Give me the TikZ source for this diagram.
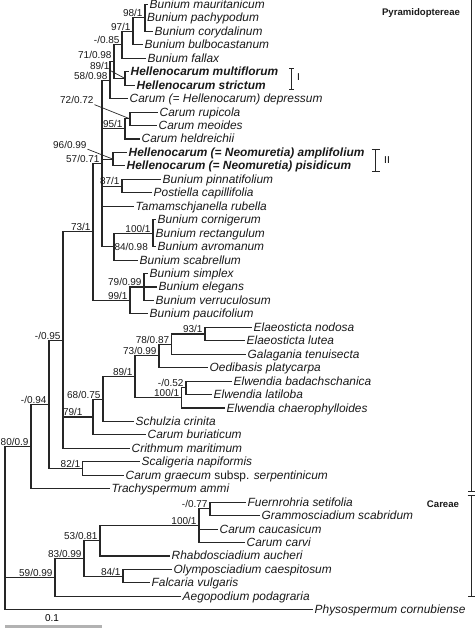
\documentclass[tikz,border=0pt]{standalone}
\usepackage{fontspec}
\setmainfont{Liberation Sans}
\usetikzlibrary{arrows.meta}

\begin{document}
\begin{tikzpicture}[x=1pt, y=-1pt,
    taxon/.style={anchor=west, inner sep=1.5pt, text height=9.5pt, text depth=1.5pt, text=black!90, font=\fontsize{11.9}{13}\selectfont\itshape},
    supp/.style={anchor=south east, inner sep=0.8pt, xshift=-1.5pt, text=black!90, font=\fontsize{10}{11}\selectfont},
    branch/.style={draw=black!85, line width=1.1pt},
    leaderline/.style={draw=black!85, line width=0.7pt},
    clade/.style={text=black!90, font=\fontsize{9.6}{11}\selectfont\bfseries}]
        \useasboundingbox (0,0) rectangle (474,628);

        % Taxa
        \node (mauritanicum) [taxon] at (148, 4.5) {Bunium mauritanicum};
        \node (pachypodum) [taxon] at (145.5, 17.95) {Bunium pachypodum};
        \node (corydalinum) [taxon] at (153, 31.4) {Bunium corydalinum};
        \node (bulbocastanum) [taxon] at (143, 44.85) {Bunium bulbocastanum};
        \node (fallax) [taxon] at (146, 58.3) {Bunium fallax};
        \node (multiflorum) [taxon] at (129, 71.75) {\bfseries Hellenocarum multiflorum};
        \node (strictum) [taxon] at (135, 85.2) {\bfseries Hellenocarum strictum};
        \node (depressum) [taxon] at (128, 98.65) {Carum (= Hellenocarum) depressum};
        \node (rupicola) [taxon] at (158, 112.1) {Carum rupicola};
        \node (meoides) [taxon] at (157, 125.55) {Carum meoides};
        \node (heldreichii) [taxon] at (140, 139.0) {Carum heldreichii};
        \node (amplifolium) [taxon] at (127, 152.45) {\bfseries Hellenocarum (= Neomuretia) amplifolium};
        \node (pisidicum) [taxon] at (125, 165.9) {\bfseries Hellenocarum (= Neomuretia) pisidicum};
        \node (pinnatifolium) [taxon] at (161, 179.35) {Bunium pinnatifolium};
        \node (capillifolia) [taxon] at (152, 192.8) {Postiella capillifolia};
        \node (rubella) [taxon] at (134, 206.25) {Tamamschjanella rubella};
        \node (cornigerum) [taxon] at (156, 219.7) {Bunium cornigerum};
        \node (rectangulum) [taxon] at (154, 233.15) {Bunium rectangulum};
        \node (avromanum) [taxon] at (156, 246.6) {Bunium avromanum};
        \node (scabrellum) [taxon] at (138, 260.05) {Bunium scabrellum};
        \node (simplex) [taxon] at (148, 273.5) {Bunium simplex};
        \node (elegans) [taxon] at (157, 286.95) {Bunium elegans};
        \node (verruculosum) [taxon] at (154, 300.4) {Bunium verruculosum};
        \node (paucifolium) [taxon] at (148, 313.85) {Bunium paucifolium};
        \node (nodosa) [taxon] at (252, 327.3) {Elaeosticta nodosa};
        \node (lutea) [taxon] at (245, 340.75) {Elaeosticta lutea};
        \node (tenuisecta) [taxon] at (246, 354.2) {Galagania tenuisecta};
        \node (platycarpa) [taxon] at (208, 367.65) {Oedibasis platycarpa};
        \node (badachschanica) [taxon] at (232, 381.1) {Elwendia badachschanica};
        \node (latiloba) [taxon] at (212, 394.55) {Elwendia latiloba};
        \node (chaerophylloides) [taxon] at (225, 408.0) {Elwendia chaerophylloides};
        \node (crinita) [taxon] at (134, 421.45) {Schulzia crinita};
        \node (buriaticum) [taxon] at (146, 434.9) {Carum buriaticum};
        \node (maritimum) [taxon] at (130, 448.35) {Crithmum maritimum};
        \node (napiformis) [taxon] at (140, 461.8) {Scaligeria napiformis};
        \node (graecum) [taxon] at (124, 475.25) {Carum graecum {\upshape subsp.} serpentinicum};
        \node (ammi) [taxon] at (110, 488.7) {Trachyspermum ammi};
        \node (setifolia) [taxon] at (246, 502.15) {Fuernrohria setifolia};
        \node (scabridum) [taxon] at (260, 515.6) {Grammosciadium scabridum};
        \node (caucasicum) [taxon] at (218, 529.05) {Carum caucasicum};
        \node (carvi) [taxon] at (245, 542.5) {Carum carvi};
        \node (aucheri) [taxon] at (170, 555.95) {Rhabdosciadium aucheri};
        \node (caespitosum) [taxon] at (172, 569.4) {Olymposciadium caespitosum};
        \node (vulgaris) [taxon] at (150, 582.85) {Falcaria vulgaris};
        \node (podagraria) [taxon] at (181, 596.3) {Aegopodium podagraria};
        \node (cornubiense) [taxon] at (313, 609.75) {Physospermum cornubiense};

        % Clades
        \coordinate (n98) at (145, 17.95);
        \coordinate (n97) at (133, 31.4);
        \coordinate (n85) at (122, 44.85);
        \coordinate (n89) at (125, 78.48);
        \coordinate (n71) at (114, 61.66);
        \coordinate (n58) at (110, 80.16);
        \coordinate (n72) at (130, 118.83);
        \coordinate (n95) at (125, 128.91);
        \coordinate (n96) at (113, 159.18);
        \coordinate (n87) at (122, 186.08);
        \coordinate (n100a) at (153, 233.15);
        \coordinate (n84) at (114, 246.6);
        \coordinate (n57) at (102, 163.38);
        \coordinate (n79) at (144, 286.95);
        \coordinate (n99) at (130, 300.4);
        \coordinate (n73) at (93, 231.89);
        \coordinate (n93) at (205, 334.03);
        \coordinate (n78) at (171.7, 344.11);
        \coordinate (n73b) at (159, 355.88);
        \coordinate (n52) at (186, 387.83);
        \coordinate (n100b) at (181.7, 397.91);
        \coordinate (n89b) at (135, 376.9);
        \coordinate (n68) at (103, 399.17);
        \coordinate (n79b) at (93, 417.04);
        \coordinate (n95b) at (63, 340.12);
        \coordinate (n82) at (82.7, 468.53);
        \coordinate (n94) at (49, 404.32);
        \coordinate (n80) at (31, 446.51);
        \coordinate (n77) at (210, 508.88);
        \coordinate (n100c) at (199, 525.69);
        \coordinate (n53) at (100, 540.82);
        \coordinate (n84b) at (123, 576.13);
        \coordinate (n83) at (84, 558.47);
        \coordinate (n59) at (55, 577.39);
        \coordinate (root) at (5, 528);

        % Branches
        \draw[branch] (n98) |- (mauritanicum.west);
        \draw[branch] (n98) |- (pachypodum.west);
        \draw[branch] (n98) |- (corydalinum.west);
        \draw[branch] (n97) |- (n98);
        \draw[branch] (n97) |- (bulbocastanum.west);
        \draw[branch] (n85) |- (n97);
        \draw[branch] (n85) |- (fallax.west);
        \draw[branch] (n89) |- (multiflorum.west);
        \draw[branch] (n89) |- (strictum.west);
        \draw[branch] (n71) |- (n85);
        \draw[branch] (n71) |- (n89);
        \draw[branch] (n58) |- (n71);
        \draw[branch] (n58) |- (depressum.west);
        \draw[branch] (n72) |- (rupicola.west);
        \draw[branch] (n72) |- (meoides.west);
        \draw[branch] (n95) |- (n72);
        \draw[branch] (n95) |- (heldreichii.west);
        \draw[branch] (n96) |- (amplifolium.west);
        \draw[branch] (n96) |- (pisidicum.west);
        \draw[branch] (n87) |- (pinnatifolium.west);
        \draw[branch] (n87) |- (capillifolia.west);
        \draw[branch] (n100a) |- (cornigerum.west);
        \draw[branch] (n100a) |- (rectangulum.west);
        \draw[branch] (n100a) |- (avromanum.west);
        \draw[branch] (n84) |- (n100a);
        \draw[branch] (n84) |- (scabrellum.west);
        \draw[branch] (n57) |- (n58);
        \draw[branch] (n57) |- (n95);
        \draw[branch] (n57) |- (n96);
        \draw[branch] (n57) |- (n87);
        \draw[branch] (n57) |- (rubella.west);
        \draw[branch] (n57) |- (n84);
        \draw[branch] (n79) |- (simplex.west);
        \draw[branch] (n79) |- (elegans.west);
        \draw[branch] (n79) |- (verruculosum.west);
        \draw[branch] (n99) |- (n79);
        \draw[branch] (n99) |- (paucifolium.west);
        \draw[branch] (n73) |- (n57);
        \draw[branch] (n73) |- (n99);
        \draw[branch] (n93) |- (nodosa.west);
        \draw[branch] (n93) |- (lutea.west);
        \draw[branch] (n78) |- (n93);
        \draw[branch] (n78) |- (tenuisecta.west);
        \draw[branch] (n73b) |- (n78);
        \draw[branch] (n73b) |- (platycarpa.west);
        \draw[branch] (n52) |- (badachschanica.west);
        \draw[branch] (n52) |- (latiloba.west);
        \draw[branch] (n100b) |- (n52);
        \draw[branch] (n100b) |- (chaerophylloides.west);
        \draw[branch] (n89b) |- (n73b);
        \draw[branch] (n89b) |- (n100b);
        \draw[branch] (n68) |- (n89b);
        \draw[branch] (n68) |- (crinita.west);
        \draw[branch] (n79b) |- (n68);
        \draw[branch] (n79b) |- (buriaticum.west);
        \draw[branch] (n95b) |- (n73);
        \draw[branch] (n95b) |- (n79b);
        \draw[branch] (n95b) |- (maritimum.west);
        \draw[branch] (n82) |- (napiformis.west);
        \draw[branch] (n82) |- (graecum.west);
        \draw[branch] (n94) |- (n95b);
        \draw[branch] (n94) |- (n82);
        \draw[branch] (n80) |- (n94);
        \draw[branch] (n80) |- (ammi.west);
        \draw[branch] (n77) |- (setifolia.west);
        \draw[branch] (n77) |- (scabridum.west);
        \draw[branch] (n100c) |- (n77);
        \draw[branch] (n100c) |- (caucasicum.west);
        \draw[branch] (n100c) |- (carvi.west);
        \draw[branch] (n53) |- (n100c);
        \draw[branch] (n53) |- (aucheri.west);
        \draw[branch] (n84b) |- (caespitosum.west);
        \draw[branch] (n84b) |- (vulgaris.west);
        \draw[branch] (n83) |- (n53);
        \draw[branch] (n83) |- (n84b);
        \draw[branch] (n59) |- (n83);
        \draw[branch] (n59) |- (podagraria.west);
        \draw[branch] (root) |- (n80);
        \draw[branch] (root) |- (n59);
        \draw[branch] (root) |- (cornubiense.west);

        % Support values
        \node (s98) [supp] at (n98) {98/1};
        \node (s97) [supp] at (n97) {97/1};
        \node (s85) [supp] at (n85) {-/0.85};
        \node (s71) [supp, yshift=2.5pt] at (n71) {71/0.98};
        \node (s58) [supp] at (n58) {58/0.98};
        \node (s89) [supp, anchor=east, xshift=0pt] at (112, 66) {89/1};
        \node (s72) [supp, anchor=east, xshift=0pt] at (96, 100) {72/0.72};
        \node (s95) [supp] at (n95) {95/1};
        \node (s96) [supp, anchor=east, xshift=0pt] at (89, 144.5) {96/0.99};
        \node (s57) [supp] at (n57) {57/0.71};
        \node (s87) [supp] at (n87) {87/1};
        \node (s100a) [supp] at (n100a) {100/1};
        \node (s84) [supp, anchor=west, xshift=1pt] at (n84) {84/0.98};
        \node (s79) [supp] at (n79) {79/0.99};
        \node (s99) [supp] at (n99) {99/1};
        \node (s73) [supp] at (n73) {73/1};
        \node (s95b) [supp] at (n95b) {-/0.95};
        \node (s93) [supp] at (n93) {93/1};
        \node (s78) [supp] at (n78) {78/0.87};
        \node (s73b) [supp] at (n73b) {73/0.99};
        \node (s89b) [supp] at (n89b) {89/1};
        \node (s52) [supp] at (n52) {-/0.52};
        \node (s100b) [supp] at (n100b) {100/1};
        \node (s68) [supp] at (n68) {68/0.75};
        \node (s79b) [supp, xshift=-8pt] at (n79b) {79/1};
        \node (s94) [supp] at (n94) {-/0.94};
        \node (s82) [supp] at (n82) {82/1};
        \node (s80) [supp] at (n80) {80/0.9};
        \node (s77) [supp] at (n77) {-/0.77};
        \node (s100c) [supp] at (n100c) {100/1};
        \node (s53) [supp] at (n53) {53/0.81};
        \node (s83) [supp] at (n83) {83/0.99};
        \node (s84b) [supp] at (n84b) {84/1};
        \node (s59) [supp] at (n59) {59/0.99};
        \draw[leaderline] (s89.south east) -- (n89);
        \draw[leaderline] (s72.south east) -- (n72);
        \draw[leaderline] (s96.south east) -- (n96);

        % Groups
        \coordinate (onetop) at (291.7, 68.5);
        \coordinate (onebot) at (291.7, 90);
        \draw[draw=black!85, line width=0.9pt, {Bar[width=5pt]}-{Bar[width=5pt]}] (onetop) -- (onebot);
        \node (one) at (298.5, 77) [font=\fontsize{10}{11}\selectfont] {I};
        \coordinate (twotop) at (375.7, 149.5);
        \coordinate (twobot) at (375.7, 172.3);
        \draw[draw=black!85, line width=0.9pt, {Bar[width=8pt]}-{Bar[width=8pt]}] (twotop) -- (twobot);
        \node (two) at (387, 160.5) [font=\fontsize{10}{11}\selectfont] {II};

        \node (pyramidoptereae) [clade] at (421, 13) {Pyramidoptereae};
        \coordinate (pyrtop) at (471, 0);
        \coordinate (pyrbot) at (471, 492);
        \draw[draw=black!85, line width=0.9pt, -{Bar[width=7pt]}] (pyrtop) -- (pyrbot);
        \node (careae) [clade] at (443, 504) {Careae};
        \coordinate (cartop) at (471, 494.5);
        \coordinate (carbot) at (471, 596.5);
        \draw[draw=black!85, line width=0.9pt, {Bar[width=7pt]}-{Bar[width=7pt]}] (cartop) -- (carbot);

        % Scale
        \coordinate (bar0) at (5, 626.5);
        \coordinate (bar1) at (102, 626.5);
        \draw[draw=black!30, line width=2.5pt] (bar0) -- (bar1);
        \node (barlabel) at (52, 618.5) [font=\fontsize{10}{11}\selectfont] {0.1};
    \end{tikzpicture}
\end{document}
